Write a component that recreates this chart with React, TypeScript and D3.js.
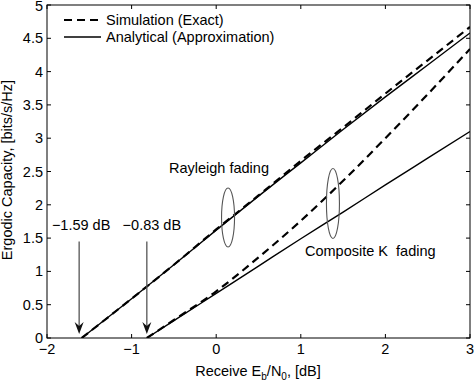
import React from "react";
import * as d3 from "d3";

const xTicks = [-2, -1, 0, 1, 2, 3];
const yTicks = [0, 0.5, 1, 1.5, 2, 2.5, 3, 3.5, 4, 4.5, 5];

const rayleighX = [-1.59, -1, -0.5, 0, 0.5, 1, 1.5, 2, 2.5, 3];
const rayleighAnalytical = [0, 0.59, 1.1, 1.62, 2.13, 2.63, 3.13, 3.62, 4.1, 4.58];
const rayleighSimulation = [0, 0.59, 1.1, 1.63, 2.14, 2.66, 3.16, 3.67, 4.17, 4.67];

const compositeX = [-0.82, -0.5, 0, 0.5, 1, 1.5, 2, 2.5, 3];
const compositeAnalytical = [0, 0.26, 0.67, 1.08, 1.49, 1.89, 2.3, 2.7, 3.1];
const compositeSimulation = [0, 0.27, 0.7, 1.21, 1.76, 2.36, 3.0, 3.66, 4.34];

const arrowXs = [-1.62, -0.82];
const arrowLabels = ["\u22121.59 dB", "\u22120.83 dB"];

const W = 474;
const H = 383;
const M = { left: 47, right: 470, top: 5, bottom: 338 };
const FONT = "'Liberation Sans', Arial, sans-serif";
const FS = 14.5;

export default function App() {
  const x = d3.scaleLinear().domain([-2, 3]).range([M.left, M.right]);
  const y = d3.scaleLinear().domain([0, 5]).range([M.bottom, M.top]);
  const line = d3
    .line<[number, number]>()
    .x((d) => x(d[0]))
    .y((d) => y(d[1]))
    .curve(d3.curveMonotoneX);
  const pts = (xs: number[], ys: number[]) => xs.map((v, i) => [v, ys[i]] as [number, number]);

  const dash = "8,5";
  const gray = "#555";

  return (
    <svg
      width={W}
      height={H}
      style={{ position: "absolute", left: 0, top: 0, background: "#fff" }}
      fontFamily={FONT}
    >
      <defs>
        <clipPath id="plot">
          <rect x={M.left} y={M.top} width={M.right - M.left} height={M.bottom - M.top} />
        </clipPath>
      </defs>
      <rect x={0} y={0} width={W} height={H} fill="#fff" />

      {/* curves */}
      <g clipPath="url(#plot)" fill="none" stroke="#000">
        <path d={line(pts(rayleighX, rayleighAnalytical)) || ""} strokeWidth={1.4} />
        <path d={line(pts(compositeX, compositeAnalytical)) || ""} strokeWidth={1.4} />
        <path d={line(pts(rayleighX, rayleighSimulation)) || ""} strokeWidth={2.2} strokeDasharray={dash} />
        <path d={line(pts(compositeX, compositeSimulation)) || ""} strokeWidth={2.2} strokeDasharray={dash} />
      </g>

      {/* axes box */}
      <rect
        x={M.left}
        y={M.top}
        width={M.right - M.left}
        height={M.bottom - M.top}
        fill="none"
        stroke="#000"
        strokeWidth={1}
      />
      {xTicks.map((t) => (
        <g key={"xt" + t}>
          <line x1={x(t)} x2={x(t)} y1={M.bottom} y2={M.bottom - 4} stroke="#000" />
          <line x1={x(t)} x2={x(t)} y1={M.top} y2={M.top + 4} stroke="#000" />
          <text x={x(t)} y={M.bottom + 16} fontSize={FS} textAnchor="middle">
            {t < 0 ? "\u2212" + Math.abs(t) : String(t)}
          </text>
        </g>
      ))}
      {yTicks.map((t) => (
        <g key={"yt" + t}>
          <line x1={M.left} x2={M.left + 4} y1={y(t)} y2={y(t)} stroke="#000" />
          <line x1={M.right} x2={M.right - 4} y1={y(t)} y2={y(t)} stroke="#000" />
          <text x={M.left - 4} y={Math.max(y(t) + 5, 11)} fontSize={FS} textAnchor="end">
            {String(t)}
          </text>
        </g>
      ))}

      {/* axis labels */}
      <text x={258} y={376} fontSize={FS} textAnchor="middle">
        Receive E
        <tspan fontSize={10} dy={4}>b</tspan>
        <tspan dy={-4}>/N</tspan>
        <tspan fontSize={10} dy={4}>0</tspan>
        <tspan dy={-4}>, [dB]</tspan>
      </text>
      <text
        transform={`translate(12, ${170}) rotate(-90)`}
        fontSize={FS}
        textAnchor="middle"
      >
        Ergodic Capacity, [bits/s/Hz]
      </text>

      {/* legend */}
      <line x1={64} x2={101} y1={20} y2={20} stroke="#000" strokeWidth={2.2} strokeDasharray={dash} />
      <text x={106} y={25} fontSize={FS}>Simulation (Exact)</text>
      <line x1={64} x2={101} y1={37} y2={37} stroke="#000" strokeWidth={1.4} />
      <text x={106} y={42} fontSize={FS}>Analytical (Approximation)</text>

      {/* arrows */}
      {arrowXs.map((a, i) => {
        const ax = x(a);
        const top = y(1.45);
        const tip = y(0.06);
        return (
          <g key={"ar" + i}>
            <line x1={ax} x2={ax} y1={top} y2={tip - 8} stroke={gray} strokeWidth={1.3} />
            <path
              d={`M${ax},${tip} L${ax - 4.5},${tip - 12} L${ax},${tip - 8} L${ax + 4.5},${tip - 12} Z`}
              fill="#111"
            />
            <text x={ax + (i === 0 ? 2 : 5)} y={230} fontSize={FS} textAnchor="middle">
              {arrowLabels[i]}
            </text>
          </g>
        );
      })}

      {/* ellipses */}
      <ellipse cx={x(0.14)} cy={y(1.81)} rx={6.5} ry={29.5} fill="none" stroke={gray} strokeWidth={1.1} />
      <ellipse cx={x(1.38)} cy={y(2.02)} rx={6.5} ry={35} fill="none" stroke={gray} strokeWidth={1.1} />

      {/* annotations */}
      <text x={169} y={173} fontSize={FS}>Rayleigh fading</text>
      <text x={305} y={256} fontSize={FS} style={{ whiteSpace: "pre" }}>
        {"Composite K  fading"}
      </text>
    </svg>
  );
}
